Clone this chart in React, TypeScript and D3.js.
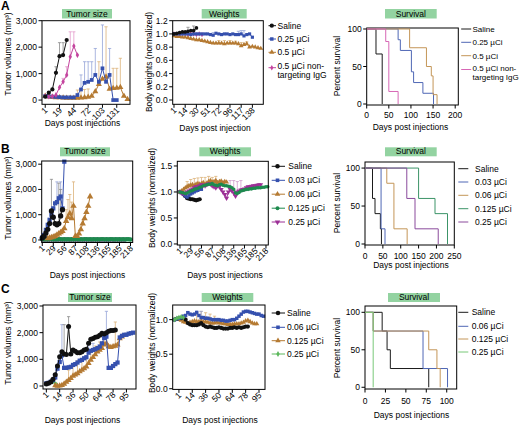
import React, { useEffect, useRef } from "react";
import * as d3 from "d3";

// ================= Row A =================
const aTumorTickLabels = ["1", "19", "44", "72", "103", "131"];
const aWeightTickLabels = ["1", "14", "30", "51", "72", "96", "117", "138"];
const aTumorSaline = [130, 280, 400, 1030, 1660, 1700, 2270];
const aTumorSalineErr = [[3, 1260], [4, 2170], [5, 2170]];
const aTumor025 = [150, 140, 130, 120, 110, 100, 100, 100, 100, 190, 400, 650, 690, 760, 950, 690, 1200, 690, 950, 0, 0];
const aTumor025Err = [[10, 950], [11, 1450], [12, 1450], [13, 1450], [14, 1950], [16, 2840], [18, 1950]];
const aTumor05 = [150, 130, 120, 100, 100, 90, 80, 80, 80, 80, 90, 100, 120, 150, 320, 600, 800, 880, 420, 450, 460, 480, 150, 30];
const aTumor05Err = [[9, 380], [10, 400], [11, 400], [12, 420], [15, 1450], [17, 2770], [19, 1200], [20, 1200], [21, 1580]];
const aTumorIgG = [150, 130, 140, 190, 480, 690, 950, 1640, 2040, 1700];
const aTumorIgGErr = [[5, 820], [6, 1260], [7, 2580], [8, 2580]];

const aWeightSaline = [1.0, 1.01, 1.02, 1.03, 1.03, 1.04, 1.05, 1.05, 1.09];
const aWeightSalineErr = [[5, 1.1], [7, 1.12]];
const aWeight025 = [1.0, 1.0, 1.0, 1.0, 1.0, 1.0, 0.99, 1.0, 1.0, 1.0, 1.0, 1.0, 1.0, 0.99, 0.98, 1.01, 1.0, 0.99, 1.0, 1.0, 0.99, 1.0, 0.99, 0.99, 1.0, 0.97, 0.99, 1.0, 0.95];
const aWeight025Err = [[14, 1.02], [23, 1.04], [24, 1.05], [25, 1.05]];
const aWeight05 = [0.97, 0.96, 0.96, 0.95, 0.95, 0.94, 0.93, 0.92, 0.91, 0.91, 0.9, 0.89, 0.88, 0.87, 0.86, 0.86, 0.86, 0.86, 0.85, 0.86, 0.86, 0.86, 0.86, 0.85, 0.82, 0.84, 0.85, 0.8, 0.81, 0.8, 0.79, 0.78];
const aWeight05Err = [[16, 0.9], [18, 0.9], [20, 0.9], [22, 0.89], [24, 0.87], [26, 0.88]];
const aWeightIgG = [1.0, 0.99, 0.99, 1.0, 1.0, 0.99, 1.0, 1.0, 0.99, 1.0, 0.99];

const aSurvSaline = [[0, 100], [21, 66.7], [35, 0]];
const aSurv025 = [[0, 100], [71, 85.7], [76, 71.4], [101, 42.9], [106, 28.6], [127, 14.3], [151, 0]];
const aSurv05 = [[0, 100], [97, 75], [135, 50], [146, 37.5], [150, 12.5], [159, 0]];
const aSurvIgG = [[0, 100], [43, 83.3], [50, 16.7], [71, 0]];
const aLegend = [["Saline"], ["0.25 µCi"], ["0.5 µCi"], ["0.5 µCi non-", "targeting IgG"]];

// ================= Row B =================
const bTickLabels = ["1", "29", "56", "87", "108", "136", "165", "185", "218"];
const bTumorSaline = [80, 150, 280, 420, 650, 1150, 900, 650, 600, 650, 950, 1200];
const bTumorSalineErr = [[5, 2400], [9, 2250], [10, 2000]];
const bTumor003 = [100, 200, 400, 600, 800, 1000, 1250, 1450, 1500, 1650, 1720, 1250, 3100];
const bTumor003Err = [[8, 2300], [10, 2300]];
const bTumor006 = [60, 80, 100, 120, 150, 200, 250, 300, 350, 460, 750, 900, 1050, 850, 1350, 150, 150, 250, 420, 650, 850, 1100, 1350, 1720];
const bTumor006Err = [[13, 1200], [14, 1600], [15, 1800], [16, 1500], [17, 2300]];
const bTumor0125 = [30, 20, 25, 20, 30, 25, 20, 30, 20, 25, 30, 20, 25, 20, 30, 20, 25, 20, 30, 25, 20, 30, 20, 25, 30, 20, 25, 20, 30, 20, 25, 20, 30, 25, 20, 30, 20, 25, 30, 20, 25, 20, 30, 20, 25, 20, 30, 25, 20];
const bTumor025 = [20, 25, 20, 15, 20, 25, 20, 15, 20, 25, 20, 15, 20, 25, 20, 15, 20, 25, 20, 15, 20, 25, 20, 15, 20, 25, 20, 15, 20, 25, 20, 15, 20, 25, 20, 15, 20, 25, 20, 15, 20, 25, 20, 15, 20, 25];

const bWeightSaline = [1.0, 1.0, 0.96, 0.92, 0.88, 0.87, 0.86, 0.86, 0.85, 0.84, 0.85, 0.86];
const bWeight003 = [1.0, 0.98, 0.95, 0.92, 0.9, 0.93, 0.96, 0.98, 1.0, 1.02, 1.03, 1.05, 1.05];
const bWeight006 = [1.0, 1.02, 1.05, 1.08, 1.1, 1.12, 1.13, 1.14, 1.12, 1.15, 1.16, 1.15, 1.16, 1.18, 1.15, 1.17, 1.2, 1.22, 1.19, 1.2, 1.22, 1.18, 1.2, 1.21, 1.18, 1.2, 1.19];
const bWeight006Err = [[4, 1.2], [6, 1.24], [8, 1.26], [10, 1.27], [12, 1.28], [14, 1.28], [16, 1.3], [18, 1.28], [20, 1.3]];
const bWeight0125 = [1.0, 0.99, 0.98, 0.97, 0.98, 1.0, 1.02, 1.03, 1.05, 1.06, 1.07, 1.09, 1.1, 1.12, 1.13, 1.14, 1.15, 1.15, 1.16, 1.14, 1.13, 1.12, 1.14, 1.15, 1.13, 1.12, 1.12, 1.11, 1.1, 1.08, 1.05, 0.98, 0.97, 0.99, 1.02, 1.03, 1.04, 1.05, 1.05, 1.06, 1.06, 1.07, 1.07, 1.08, 1.08, 1.08, 1.09, 1.09, 1.1, 1.1];
const bWeight025 = [1.0, 0.98, 0.97, 0.98, 1.0, 1.02, 1.04, 1.06, 1.08, 1.1, 1.1, 1.12, 1.14, 1.13, 1.12, 1.14, 1.16, 1.15, 1.12, 1.1, 1.08, 1.12, 1.1, 1.05, 1.0, 0.95, 0.88, 1.0, 1.05, 1.02, 0.98, 0.92, 1.0, 1.02, 1.04, 1.05, 1.06, 1.08, 1.1, 1.1, 1.11, 1.12, 1.12, 1.13, 1.14, 1.14];
const bWeight025Err = [[28, 1.22], [30, 1.22], [32, 1.2], [34, 1.22]];

const bSurvSaline = [[0, 100], [21, 60], [28, 40], [43, 20], [46, 0]];
const bSurv003 = [[0, 100], [45, 20], [56, 0]];
const bSurv006 = [[0, 100], [61, 80], [81, 20], [118, 0]];
const bSurv0125 = [[0, 100], [150, 60], [196, 40], [231, 0]];
const bSurv025 = [[0, 100], [117, 60], [140, 20], [205, 0]];
const bLegend = [["Saline"], ["0.03 µCi"], ["0.06 µCi"], ["0.125 µCi"], ["0.25 µCi"]];

// ================= Row C =================
const cTickLabels = ["1", "14", "36", "50", "64", "78", "95"];
const cTumorSaline = [80, 100, 150, 250, 420, 750, 1100, 1280, 1200, 1180, 2230, 1200, 1350, 1300, 1250, 1250, 1280, 1350, 1380, 1600, 1750, 1780, 1830, 1850, 1900, 1980, 1950, 2000, 2050, 2080, 2080, 2100];
const cTumorSalineErr = [[8, 2300], [10, 2600]];
const cTumor006 = [100, 120, 160, 220, 320, 650, 900, 1150, 680, 680, 700, 720, 790, 820, 880, 950, 980, 1040, 1080, 1250, 1320, 1350, 1380, 1420, 1480, 1600, 1800, 1850, 680, 680, 750, 820, 880, 1820, 1880, 1920, 1920, 1960, 1980, 2000];
const cTumor006Err = [[7, 2300], [19, 1550], [21, 1600], [27, 2800]];
const cTumor0125 = [20, 0, 10, 30, 80, 150, 220, 290, 380, 420, 470, 540, 600, 660, 720, 850, 980, 1080, 1180, 1280, 1350, 1420, 1550, 1600, 1480, 1450, 1480, 1500, 1550, 1780, 1850];
const cTumor0125Err = [[10, 600], [12, 800], [14, 950], [16, 1000], [18, 1100], [20, 1300], [22, 1500], [24, 1650], [26, 1900], [31, 2400]];
const cTumor025 = [70, 100, 140, 160, 100];

const cWeightSaline = [1.0, 1.01, 1.02, 1.02, 1.03, 1.0, 0.95, 0.93, 0.92, 0.92, 0.92, 0.93, 0.95, 0.92, 0.9, 0.89, 0.9, 0.89, 0.88, 0.88, 0.89, 0.88, 0.87, 0.87, 0.87, 0.88, 0.88, 0.89, 0.88, 0.89, 0.88, 0.89, 0.9, 0.9];
const cWeight006 = [1.0, 1.01, 1.02, 1.03, 1.05, 1.06, 1.1, 1.08, 1.07, 1.08, 1.1, 1.06, 1.03, 1.03, 1.02, 1.02, 1.01, 1.0, 1.0, 1.0, 1.0, 0.99, 0.99, 0.98, 0.98, 0.99, 1.0, 1.0, 1.02, 1.05, 1.08, 1.11, 1.12, 1.12, 1.11, 1.1, 1.09, 1.08, 1.08, 1.06, 1.05];
const cWeight006Err = [[4, 1.12], [8, 1.13], [10, 1.12]];
const cWeight0125 = [1.0, 1.0, 1.0, 0.99, 0.97, 0.96, 0.95, 0.96, 0.97, 0.98, 0.97, 0.97, 0.98, 0.97, 0.97, 0.96, 0.95, 0.95, 0.95, 0.96, 0.95, 0.95, 0.94, 0.94, 0.93, 0.93, 0.93, 0.94, 0.94, 0.94, 0.95, 0.96, 0.98, 0.99, 0.97, 0.95, 0.94, 0.94];
const cWeight0125Err = [[8, 1.1], [10, 1.12], [12, 1.1], [14, 1.08], [16, 1.05]];
const cWeight025 = [1.0, 1.02, 1.03, 1.04, 1.03];

const cSurvSaline = [[0, 100], [21, 75], [27, 50], [31, 25], [78, 0]];
const cSurv006 = [[0, 100], [10, 75], [71, 25], [101, 0]];
const cSurv0125 = [[0, 100], [10, 75], [78, 50], [88, 25], [92, 0]];
const cSurv025 = [[0, 100], [10, 0]];
const cLegend = [["Saline"], ["0.06 µCi"], ["0.125 µCi"], ["0.25 µCi"]];

// ================= styling =================
const FONT = "'Liberation Sans', Arial, Helvetica, sans-serif";
const K = { c: "#111111", e: "#8a8a8a", s: "#1a1a1a" };
const BL = { c: "#3550ae", e: "#95a5d8", s: "#4f67b5" };
const TN = { c: "#b57a32", e: "#dcb27a", s: "#c49658" };
const MG = { c: "#c4449e", e: "#e39acb", s: "#d767b5" };
const GR = { c: "#1d8a4e", e: "#8fd0a0", s: "#3c9468" };
const PU = { c: "#9c2f96", e: "#cf9acb", s: "#8b4b9c" };
const LG = { c: "#5cb85c", e: "#a8dca8", s: "#78c878" };
const BOX = "#93d3a1";

type Sel = d3.Selection<any, any, any, any>;

function symPath(marker: string, size: number): string {
  const t = marker === "circle" ? d3.symbolCircle : marker === "square" ? d3.symbolSquare : marker === "diamond" ? d3.symbolDiamond : d3.symbolTriangle;
  return d3.symbol().type(t).size(size)() as string;
}

function marker(g: Sel, m: string, size: number, color: string, cx: number, cy: number) {
  g.append("path")
    .attr("d", symPath(m, size))
    .attr("fill", color)
    .attr("transform", `translate(${cx},${cy})${m === "triDown" ? " rotate(180)" : ""}`);
}

function txt(g: Sel, x: number, y: number, s: string, size = 8.5, anchor = "start", weight = "normal") {
  return g.append("text").attr("x", x).attr("y", y).attr("font-size", size).attr("text-anchor", anchor)
    .attr("font-weight", weight).attr("fill", "#000").text(s);
}

function vtxt(g: Sel, x: number, cy: number, s: string) {
  g.append("text").attr("transform", `translate(${x},${cy}) rotate(-90)`).attr("font-size", 8.5)
    .attr("text-anchor", "middle").attr("fill", "#000").text(s);
}

function titleBox(g: Sel, x1: number, x2: number, y1: number, y2: number, s: string) {
  g.append("rect").attr("x", x1).attr("y", y1).attr("width", x2 - x1).attr("height", y2 - y1).attr("fill", BOX);
  txt(g, (x1 + x2) / 2, y2 - 2, s, 8.5, "middle");
}

function xyPlot(root: Sel, c: any) {
  const x = d3.scaleLinear().domain(c.xDomain).range([c.left, c.right]);
  const y = d3.scaleLinear().domain(c.yDomain).range([c.bottom, c.top]);
  const g = root.append("g");
  for (const s of c.series) {
    for (const [i, top] of s.err || []) {
      const v = s.values[i - s.start];
      if (v == null) continue;
      g.append("line").attr("x1", x(i)).attr("x2", x(i)).attr("y1", y(v)).attr("y2", y(top))
        .attr("stroke", s.col.e).attr("stroke-width", 0.8);
      g.append("line").attr("x1", x(i) - 1.6).attr("x2", x(i) + 1.6).attr("y1", y(top)).attr("y2", y(top))
        .attr("stroke", s.col.e).attr("stroke-width", 0.8);
    }
  }
  for (const s of c.series) {
    const pts: [number, number][] = s.values.map((v: number, k: number) => [s.start + k, v]);
    g.append("path")
      .attr("d", d3.line<[number, number]>().x((d) => x(d[0])).y((d) => y(d[1]))(pts))
      .attr("fill", "none").attr("stroke", s.col.c).attr("stroke-width", s.lw || 1);
    for (const p of pts) marker(g, s.marker, s.size, s.col.c, x(p[0]), y(p[1]));
  }
  g.append("rect").attr("x", c.left).attr("y", c.top).attr("width", c.right - c.left).attr("height", c.bottom - c.top)
    .attr("fill", "none").attr("stroke", "#000").attr("stroke-width", 1);
  for (const t of c.yTicks) {
    g.append("line").attr("x1", c.left - 3.5).attr("x2", c.left).attr("y1", y(t)).attr("y2", y(t)).attr("stroke", "#000");
    txt(g, c.left - 5, y(t) + 3, c.yFmt(t), 8.5, "end");
  }
  c.xTickIdx.forEach((idx: number, k: number) => {
    const xx = x(idx);
    g.append("line").attr("x1", xx).attr("x2", xx).attr("y1", c.bottom).attr("y2", c.bottom + 3.5).attr("stroke", "#000");
    g.append("text").attr("transform", `translate(${xx + 3},${c.bottom + 6.5}) rotate(-45)`)
      .attr("font-size", 8.5).attr("text-anchor", "end").attr("fill", "#000").text(c.xLabels[k]);
  });
}

function survPlot(root: Sel, c: any) {
  const x = d3.scaleLinear().domain(c.xDomain).range([c.left, c.right]);
  const y = d3.scaleLinear().domain(c.yDomain).range([c.bottom, c.top]);
  const g = root.append("g");
  g.append("rect").attr("x", c.left).attr("y", c.top).attr("width", c.right - c.left).attr("height", c.bottom - c.top)
    .attr("fill", "none").attr("stroke", "#000").attr("stroke-width", 1);
  const line = d3.line<number[]>().x((d) => x(d[0])).y((d) => y(d[1])).curve(d3.curveStepAfter);
  for (const s of c.series) {
    g.append("path").attr("d", line(s.steps)).attr("fill", "none").attr("stroke", s.col.s).attr("stroke-width", 1);
  }
  for (const t of [0, 50, 100]) {
    g.append("line").attr("x1", c.left - 3.5).attr("x2", c.left).attr("y1", y(t)).attr("y2", y(t)).attr("stroke", "#000");
    txt(g, c.left - 5, y(t) + 3, String(t), 8.5, "end");
  }
  for (const t of c.xTicks) {
    g.append("line").attr("x1", x(t)).attr("x2", x(t)).attr("y1", c.bottom).attr("y2", c.bottom + 3.5).attr("stroke", "#000");
    txt(g, x(t), c.tickBase, String(t), 8.5, "middle");
  }
}

function weightLegend(g: Sel, entries: any[], x1: number, x2: number, mx: number, tx: number, rows: number[]) {
  entries.forEach((e, i) => {
    const yy = rows[i];
    const my = e.label.length > 1 ? yy + 2 : yy;
    g.append("line").attr("x1", x1).attr("x2", x2).attr("y1", my).attr("y2", my).attr("stroke", e.col.c);
    marker(g, e.marker, e.size, e.col.c, mx, my);
    e.label.forEach((l: string, j: number) => txt(g, tx, yy + 3 + j * 9.4, l));
  });
}

function survLegend(g: Sel, entries: any[], x1: number, x2: number, tx: number, rows: number[], fs = 8.5) {
  entries.forEach((e, i) => {
    const yy = rows[i];
    const my = e.label.length > 1 ? yy + 2 : yy;
    g.append("line").attr("x1", x1).attr("x2", x2).attr("y1", my).attr("y2", my).attr("stroke", e.col.s);
    e.label.forEach((l: string, j: number) => txt(g, tx, yy + 3 + j * 9, l, fs));
  });
}

function drawAll(svg: Sel) {
  const root = svg.append("g").attr("font-family", FONT);
  const fmtK = d3.format(",");
  const fmt1 = d3.format(".1f");

  // ---------- Row A ----------
  txt(root, 1, 10, "A", 12, "start", "bold");
  titleBox(root, 62, 112, 9, 18.5, "Tumor size");
  titleBox(root, 201.7, 246.7, 9, 18.5, "Weights");
  titleBox(root, 385, 436.7, 9, 18.5, "Survival");
  xyPlot(root, {
    left: 42, right: 130, top: 20.7, bottom: 104.3, xDomain: [-0.9, 23.7], yDomain: [-160, 3000],
    yTicks: [0, 1000, 2000, 3000], yFmt: fmtK, xTickIdx: [0, 4, 8, 12, 16, 20], xLabels: aTumorTickLabels,
    series: [
      { start: 0, values: aTumor05, err: aTumor05Err, col: TN, marker: "triangle", size: 16 },
      { start: 0, values: aTumor025, err: aTumor025Err, col: BL, marker: "square", size: 14 },
      { start: 0, values: aTumorIgG, err: aTumorIgGErr, col: MG, marker: "diamond", size: 10 },
      { start: 0, values: aTumorSaline, err: aTumorSalineErr, col: K, marker: "circle", size: 14 },
    ],
  });
  vtxt(root, 11, 54, "Tumor volumes (mm³)");
  txt(root, 82.5, 126, "Days post injections", 8.5, "middle");

  xyPlot(root, {
    left: 172.7, right: 263.3, top: 20.7, bottom: 104.3, xDomain: [-0.46, 31.9], yDomain: [-0.065, 1.2],
    yTicks: [0, 0.2, 0.4, 0.6, 0.8, 1.0, 1.2], yFmt: fmt1, xTickIdx: [0, 4, 8, 12, 16, 20, 24, 28], xLabels: aWeightTickLabels,
    series: [
      { start: 0, values: aWeightIgG, err: [], col: MG, marker: "diamond", size: 8 },
      { start: 0, values: aWeight05, err: aWeight05Err, col: TN, marker: "triangle", size: 10 },
      { start: 0, values: aWeight025, err: aWeight025Err, col: BL, marker: "square", size: 10 },
      { start: 0, values: aWeightSaline, err: aWeightSalineErr, col: K, marker: "circle", size: 11 },
    ],
  });
  vtxt(root, 152, 62, "Body weights (normalized)");
  txt(root, 215, 131, "Days post injection", 8.5, "middle");
  weightLegend(root, [
    { label: aLegend[0], col: K, marker: "circle", size: 14 },
    { label: aLegend[1], col: BL, marker: "square", size: 12 },
    { label: aLegend[2], col: TN, marker: "triangle", size: 12 },
    { label: aLegend[3], col: MG, marker: "diamond", size: 9 },
  ], 268.5, 276, 271.8, 277.5, [25.7, 39, 52.3, 65.7]);

  survPlot(root, {
    left: 366.7, right: 458.3, top: 28, bottom: 105, xDomain: [0, 207], yDomain: [-1.33, 101.33],
    xTicks: [0, 50, 100, 150, 200], tickBase: 118,
    series: [
      { steps: aSurvSaline, col: K }, { steps: aSurv025, col: BL }, { steps: aSurv05, col: TN }, { steps: aSurvIgG, col: MG },
    ],
  });
  vtxt(root, 340, 66, "Percent survival");
  txt(root, 410.5, 129.5, "Days post injections", 8.5, "middle");
  survLegend(root, [
    { label: aLegend[0], col: K }, { label: aLegend[1], col: BL }, { label: aLegend[2], col: TN }, { label: aLegend[3], col: MG },
  ], 461.2, 471.2, 472.5, [29, 42.3, 55.7, 67.5], 8);

  // ---------- Row B ----------
  txt(root, 1, 152.5, "B", 12, "start", "bold");
  titleBox(root, 60, 110, 147.3, 156.3, "Tumor size");
  titleBox(root, 199.3, 251, 147.3, 156.3, "Weights");
  titleBox(root, 385, 436.7, 147.3, 156.3, "Survival");
  xyPlot(root, {
    left: 41.7, right: 132.7, top: 161, bottom: 242.5, xDomain: [-0.3, 49.2], yDomain: [-100, 3126],
    yTicks: [0, 1000, 2000, 3000], yFmt: fmtK, xTickIdx: [0, 6, 12, 18, 24, 30, 36, 42, 48], xLabels: bTickLabels,
    series: [
      { start: 0, values: bTumor025, err: [], col: PU, marker: "triDown", size: 14 },
      { start: 0, values: bTumor0125, err: [], col: GR, marker: "circle", size: 16, lw: 1.5 },
      { start: 3, values: bTumor006, err: bTumor006Err, col: TN, marker: "triangle", size: 18 },
      { start: 0, values: bTumor003, err: bTumor003Err, col: BL, marker: "square", size: 18 },
      { start: 0, values: bTumorSaline, err: bTumorSalineErr, col: K, marker: "circle", size: 22 },
    ],
  });
  vtxt(root, 11, 198, "Tumor volumes (mm³)");
  txt(root, 87.5, 277.5, "Days post injections", 8.5, "middle");

  xyPlot(root, {
    left: 177.3, right: 268.3, top: 161.3, bottom: 245, xDomain: [-1.5, 49.3], yDomain: [-0.02, 1.59],
    yTicks: [0, 0.5, 1.0, 1.5], yFmt: fmt1, xTickIdx: [0, 6, 12, 18, 24, 30, 36, 42, 48], xLabels: bTickLabels,
    series: [
      { start: 0, values: bWeightSaline, err: [], col: K, marker: "circle", size: 14 },
      { start: 0, values: bWeight003, err: [], col: BL, marker: "square", size: 10 },
      { start: 0, values: bWeight006, err: bWeight006Err, col: TN, marker: "triangle", size: 11 },
      { start: 0, values: bWeight025, err: bWeight025Err, col: PU, marker: "triDown", size: 11 },
      { start: 0, values: bWeight0125, err: [], col: GR, marker: "circle", size: 10 },
    ],
  });
  vtxt(root, 155, 198, "Body weights (normalized)");
  txt(root, 225, 277.5, "Days post injections", 8.5, "middle");
  weightLegend(root, [
    { label: bLegend[0], col: K, marker: "circle", size: 16 },
    { label: bLegend[1], col: BL, marker: "square", size: 13 },
    { label: bLegend[2], col: TN, marker: "triangle", size: 13 },
    { label: bLegend[3], col: GR, marker: "circle", size: 12 },
    { label: bLegend[4], col: PU, marker: "triDown", size: 13 },
  ], 271.7, 285, 277.5, 288.3, [166.3, 180.3, 194.2, 208.2, 222]);

  survPlot(root, {
    left: 365, right: 454.3, top: 162, bottom: 245, xDomain: [0, 250], yDomain: [-1.3, 108],
    xTicks: [0, 50, 100, 150, 200, 250], tickBase: 259,
    series: [
      { steps: bSurvSaline, col: K }, { steps: bSurv003, col: BL }, { steps: bSurv006, col: TN },
      { steps: bSurv0125, col: GR }, { steps: bSurv025, col: PU },
    ],
  });
  vtxt(root, 340, 203, "Percent survival");
  txt(root, 411, 268, "Days post injections", 8.5, "middle");
  survLegend(root, [
    { label: bLegend[0], col: K }, { label: bLegend[1], col: BL }, { label: bLegend[2], col: TN },
    { label: bLegend[3], col: GR }, { label: bLegend[4], col: PU },
  ], 458.3, 468.3, 475, [168.7, 182, 195.3, 208.7, 222]);

  // ---------- Row C ----------
  txt(root, 1, 292.5, "C", 12, "start", "bold");
  titleBox(root, 68, 112, 293, 302, "Tumor size");
  titleBox(root, 201.7, 253.3, 293, 302, "Weights");
  titleBox(root, 388, 440, 293, 302, "Survival");
  xyPlot(root, {
    left: 43, right: 136, top: 305, bottom: 389, xDomain: [-1.5, 40.3], yDomain: [-112, 3037],
    yTicks: [0, 1000, 2000, 3000], yFmt: fmtK, xTickIdx: [0, 6, 12, 18, 24, 30, 36], xLabels: cTickLabels,
    series: [
      { start: 0, values: cTumor025, err: [], col: LG, marker: "circle", size: 10 },
      { start: 4, values: cTumor0125, err: cTumor0125Err, col: TN, marker: "triangle", size: 16 },
      { start: 0, values: cTumor006, err: cTumor006Err, col: BL, marker: "square", size: 18 },
      { start: 0, values: cTumorSaline, err: cTumorSalineErr, col: K, marker: "circle", size: 20 },
    ],
  });
  vtxt(root, 11, 343, "Tumor volumes (mm³)");
  txt(root, 82.5, 422.5, "Days post injections", 8.5, "middle");

  xyPlot(root, {
    left: 172.7, right: 265, top: 305, bottom: 389.4, xDomain: [-2.8, 38.7], yDomain: [-0.01, 1.212],
    yTicks: [0, 0.5, 1.0], yFmt: fmt1, xTickIdx: [0, 6, 12, 18, 24, 30, 36], xLabels: cTickLabels,
    series: [
      { start: -2, values: cWeight0125, err: cWeight0125Err, col: TN, marker: "triangle", size: 11 },
      { start: -2, values: cWeightSaline, err: [], col: K, marker: "circle", size: 14 },
      { start: -2, values: cWeight006, err: cWeight006Err, col: BL, marker: "square", size: 12 },
      { start: -2, values: cWeight025, err: [], col: LG, marker: "diamond", size: 9 },
    ],
  });
  vtxt(root, 155, 343, "Body weights (normalized)");
  txt(root, 220, 422.5, "Days post injections", 8.5, "middle");
  weightLegend(root, [
    { label: cLegend[0], col: K, marker: "circle", size: 16 },
    { label: cLegend[1], col: BL, marker: "square", size: 13 },
    { label: cLegend[2], col: TN, marker: "triangle", size: 13 },
    { label: cLegend[3], col: LG, marker: "diamond", size: 10 },
  ], 271.7, 285, 278, 287, [313, 327.3, 340.7, 354]);

  survPlot(root, {
    left: 365, right: 456.7, top: 306, bottom: 389, xDomain: [0, 112.2], yDomain: [-2.3, 108.4],
    xTicks: [0, 25, 50, 75, 100], tickBase: 404,
    series: [
      { steps: cSurvSaline, col: K }, { steps: cSurv006, col: BL }, { steps: cSurv0125, col: TN }, { steps: cSurv025, col: LG },
    ],
  });
  vtxt(root, 340, 348, "Percent survival");
  txt(root, 411.5, 418, "Days post injections", 8.5, "middle");
  survLegend(root, [
    { label: cLegend[0], col: K }, { label: cLegend[1], col: BL }, { label: cLegend[2], col: TN }, { label: cLegend[3], col: LG },
  ], 458.3, 468.3, 471.7, [312.3, 326.3, 339, 352]);
}

export default function App() {
  const ref = useRef<SVGSVGElement>(null);
  useEffect(() => {
    const svg = d3.select(ref.current);
    svg.selectAll("*").remove();
    drawAll(svg as any);
  }, []);
  return (
    <svg ref={ref} width={520} height={426}
      style={{ position: "absolute", left: 0, top: 0, background: "#fff", display: "block" }} />
  );
}
